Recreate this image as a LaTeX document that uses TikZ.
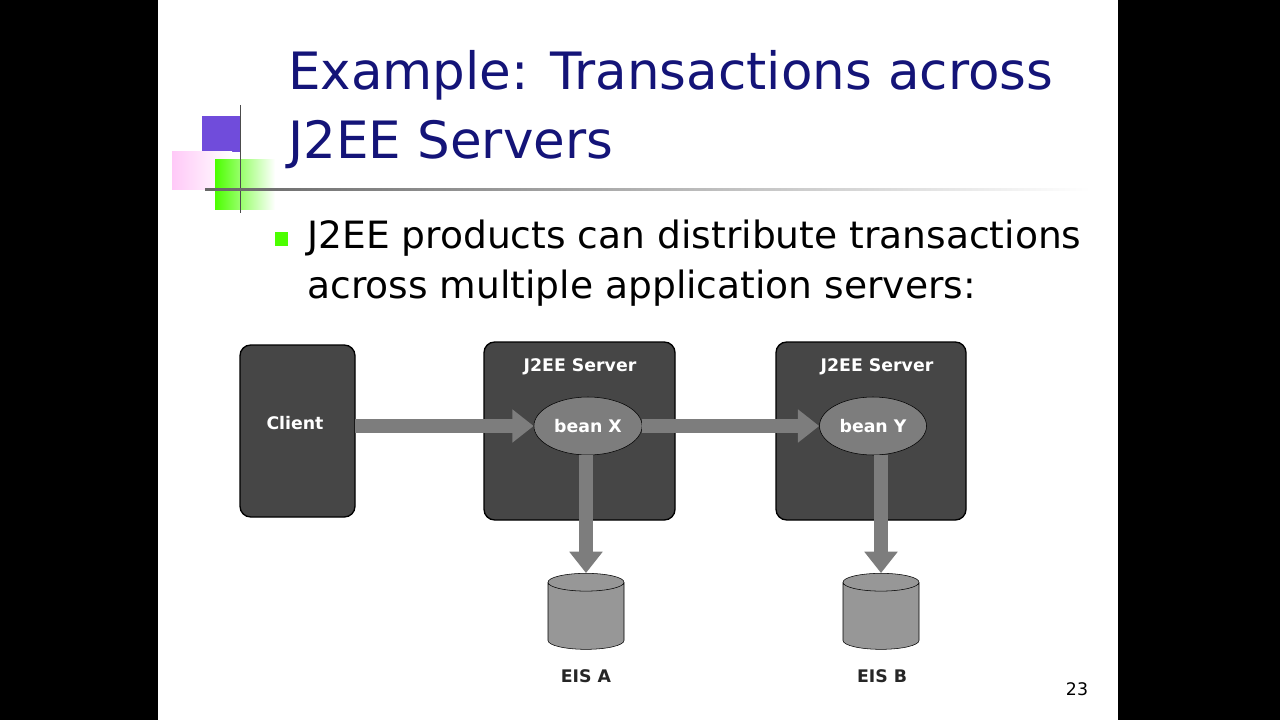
\documentclass[tikz,border=0pt]{standalone}
\usepackage{fontspec}
\setmainfont{DejaVu Sans}
\usetikzlibrary{shapes.geometric,arrows.meta}
\definecolor{navy}{RGB}{20,20,120}
\definecolor{boxg}{RGB}{70,70,70}
\definecolor{arrg}{RGB}{125,125,125}
\tikzset{
 srv/.style={draw=black,line width=1pt,fill=boxg,rounded corners=8pt},
 bean/.style={ellipse,draw=black,fill=arrg,minimum width=104*0.75pt,minimum height=58*0.75pt,text=white,font=\bfseries\fontsize{13}{16}\selectfont},
 lbl/.style={text=white,font=\bfseries\fontsize{13}{16}\selectfont},
 big/.style={line width=11pt,draw=arrg,-{Triangle[length=16pt,width=24pt]}},
 db/.style={cylinder,shape border rotate=90,aspect=2,draw=black,fill=arrg!80,minimum width=76*0.75pt,minimum height=76*0.75pt},
 eis/.style={font=\bfseries\fontsize{13}{16}\selectfont,text=black!85}
}
\begin{document}
\begin{tikzpicture}[x=0.75pt,y=-0.75pt]
\useasboundingbox (0,0) rectangle (1280,720);
\fill[black] (0,0) rectangle (1280,720);
\fill[white] (158,0) rectangle (1118,720);
% decoration
\fill[blue!60!violet!70] (202,116) rectangle (240,152);
\shade[left color=pink!40!magenta!30,right color=white] (172,152) rectangle (232,190);
\shade[left color=green!60!lime,right color=white] (215,160) rectangle (275,210);
\draw[black!70] (240,105) -- (240,213);
\shade[left color=black!60,right color=white,draw=none] (205,189) rectangle (1090,191);
% title
\node[anchor=base west,text=navy,font=\fontsize{38.6}{46}\selectfont,inner sep=0] (t1) at (288,90) {Example: Transactions across};
\node[anchor=base west,text=navy,font=\fontsize{38.6}{46}\selectfont,inner sep=0] (t2) at (288,159) {J2EE Servers};
% bullet
\fill[green!60!lime] (275,232) rectangle (288,246);
\node[anchor=base west,font=\fontsize{28.2}{36}\selectfont,inner sep=0] (b1) at (307,248) {J2EE products can distribute transactions};
\node[anchor=base west,font=\fontsize{28.2}{36}\selectfont,inner sep=0] (b2) at (307,298) {across multiple application servers:};
% diagram
\draw[srv] (240,345) rectangle (355,517);
\draw[srv] (484,342) rectangle (675,520);
\draw[srv] (776,342) rectangle (966,520);
\node[lbl] (cl) at (295,423) {Client};
\node[lbl] (s1) at (580,367) {J2EE Server};
\node[lbl] (s2) at (877,367) {J2EE Server};
\coordinate (cr) at (355,426);
\node[bean] (bx) at (588,426) {bean X};
\node[bean] (by) at (873,426) {bean Y};
\node[db] (ea) at (586,618) {};
\node[db] (eb) at (881,618) {};
\node[eis] (la) at (586,676) {EIS A};
\node[eis] (lb) at (882,676) {EIS B};
\draw[big] (cr) -- (bx.west);
\draw[big] (bx.east) -- (by.west);
\draw[big] (ea.north |- bx.south) -- (ea.north);
\draw[big] (eb.north |- by.south) -- (eb.north);
\node[font=\fontsize{13}{15}\selectfont] (pg) at (1077,689) {23};
\end{tikzpicture}
\end{document}
